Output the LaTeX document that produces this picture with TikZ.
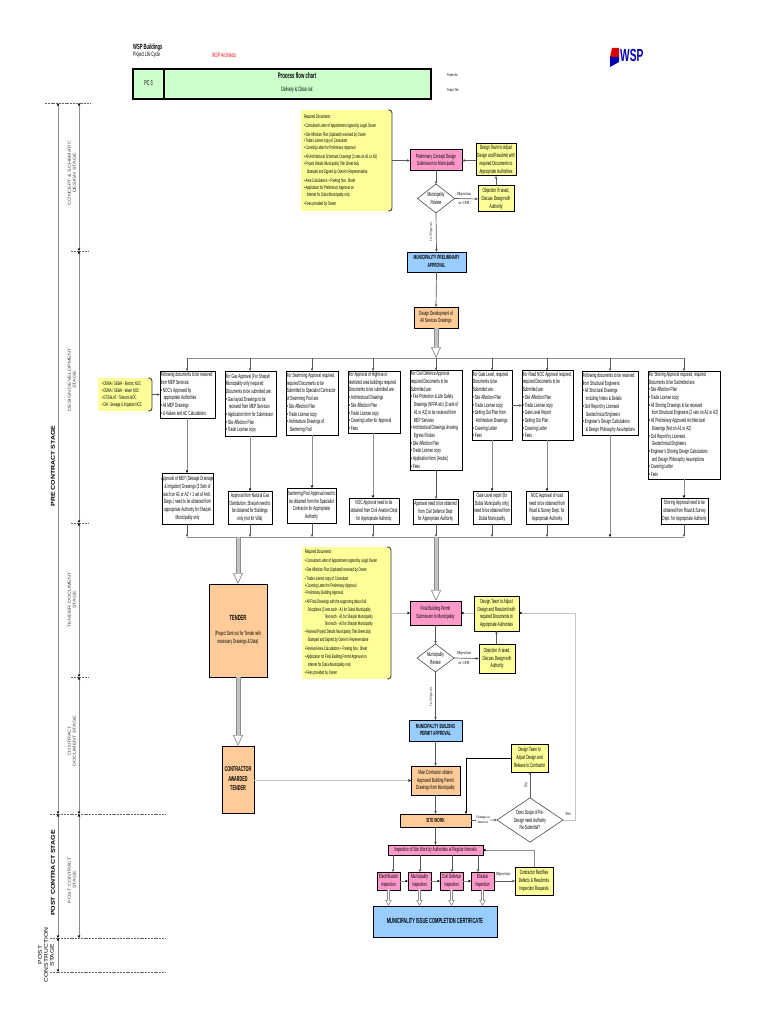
\documentclass[tikz,border=0pt]{standalone}
\usepackage{fontspec}
\usetikzlibrary{arrows.meta,shapes.geometric,calc}
\setmainfont[FakeStretch=0.54]{Liberation Sans}
\newfontfamily\lblserif[FakeStretch=0.8]{Liberation Serif}
\newfontfamily\stagefont[FakeStretch=1.25]{Liberation Sans}
\newfontfamily\logofont[FakeStretch=0.58]{Liberation Sans}
\definecolor{cpink}{HTML}{FF99CC}
\definecolor{cyel}{HTML}{FFFF99}
\definecolor{cblue}{HTML}{99CCFF}
\definecolor{corg}{HTML}{FFCC99}
\definecolor{cgreen}{HTML}{CCFFCC}
\definecolor{cgrey}{HTML}{8C8C8C}
\definecolor{clight}{HTML}{C4C4C4}
\newcommand\tiptext{\fontsize{6}{7.7}\selectfont}
\newcommand\notetext{\fontsize{5.2}{7.3}\selectfont}
\newcommand\bxcore[8]{%
  \pgfmathsetmacro\bxcx{(#3+#5)/2}\pgfmathsetmacro\bxcy{(#4+#6)/2}%
  \pgfmathsetmacro\bxw{#5-#3}\pgfmathsetmacro\bxh{#6-#4}\pgfmathsetmacro\bxt{#5-#3-1.5}%
  \node[#7,minimum width=\bxw pt,minimum height=\bxh pt] (#2) at (\bxcx,\bxcy)
    {\makebox[\bxt pt][#1]{\begin{tabular}{@{}#1@{}}#8\end{tabular}}};}
\newcommand\bx{\bxcore{c}}
\newcommand\bxl{\bxcore{l}}
\tikzset{
  x=1pt,y=-1pt,
  boxbase/.style={draw=black,line width=1pt,inner sep=0pt,outer sep=0pt,font=\tiptext},
  docbox/.style={boxbase,fill=white},
  appbox/.style={boxbase,fill=white},
  pinkbox/.style={boxbase,fill=cpink},
  yelbox/.style={boxbase,fill=cyel},
  bluebox/.style={boxbase,fill=cblue},
  orgbox/.style={boxbase,fill=corg},
  notebox/.style={fill=cyel,inner sep=0pt,outer sep=0pt,font=\notetext},
  bracket/.style={draw=black!80,line width=.8pt,rounded corners=3pt},
  revdiamond/.style={diamond,draw=black!70,fill=white,line width=.6pt,inner sep=0pt,outer sep=0pt,aspect=1.3,align=center,font=\tiptext},
  con/.style={draw=black!65,line width=.7pt,-{Stealth[length=3pt,width=2.6pt]}},
  greycon/.style={draw=clight,line width=1pt,-{Stealth[length=3pt,width=2.6pt,color=black]}},
  darkcon/.style={draw=black,line width=.9pt,-{Stealth[length=3pt,width=2.6pt]}},
  busline/.style={draw=cgrey,line width=1pt},
  fat/.style={draw=cgrey,line width=5pt,-{Triangle[length=11pt,width=10pt,fill=white,line width=.7pt]},
     postaction={draw=clight,line width=3pt,-,shorten >=10pt}},
  fatsmall/.style={draw=cgrey,line width=3.4pt,-{Triangle[length=6pt,width=6.5pt,fill=white,line width=.6pt]},
     postaction={draw=white,line width=1.6pt,-,shorten >=5pt}},
  lbl/.style={inner sep=0pt,font=\lblserif\fontsize{4.6}{5}\selectfont,align=center},
  stagelbl/.style={inner sep=0pt,rotate=90,align=center,text=black!75,font=\stagefont\fontsize{4.3}{5}\selectfont},
  bigstage/.style={inner sep=0pt,rotate=90,align=center,font=\stagefont\bfseries\fontsize{5.6}{6.2}\selectfont},
  stageline/.style={draw=cgrey,line width=.9pt,{Stealth[length=3pt,width=2.6pt,color=black]}-{Stealth[length=3pt,width=2.6pt,color=black]}},
  stagetick/.style={draw=black!60,line width=.8pt,dash pattern=on 2pt off .8pt},
  hdr/.style={inner sep=0pt,anchor=west},
}
\begin{document}
\begin{tikzpicture}
\useasboundingbox[fill=white] (0,0) rectangle (768,1024);
% header
\node[hdr,font=\bfseries\fontsize{7.6}{9}\selectfont] (h1) at (133,48) {WSP Buildings};
\node[hdr,font=\fontsize{6.4}{8}\selectfont] (h2) at (133,55) {Project Life Cycle};
\node[hdr,text=red,font=\fontsize{6.4}{8}\selectfont] (h3) at (212,55) {WSP Architects};
\bx{hleft}{133}{69}{164}{99}{boxbase,fill=cgreen,line width=1.2pt,font=\fontsize{7}{8}\selectfont}{PC 3}
\bx{hmain}{164}{69}{431}{99}{boxbase,fill=cgreen,line width=1.2pt}{}
\node[inner sep=0pt,font=\bfseries\fontsize{8}{9}\selectfont] (h4) at (297,76) {Process flow chart};
\node[inner sep=0pt,font=\fontsize{6.4}{8}\selectfont] (h5) at (297,90) {Delivery \& Close out};
\node[hdr,font=\fontsize{4}{5}\selectfont] (h6) at (447,75) {Project No:};
\node[hdr,font=\fontsize{4}{5}\selectfont] (h7) at (447,90) {Project Title:};
% logo
\fill[red!85!black] (612,48) -- (619,48) -- (619,57) -- (610,57) -- cycle;
\fill[blue!70!black] (610,57) -- (619,57) -- (619,62) -- (610,67) -- cycle;
\node[hdr,text=blue!70!black,font=\logofont\bfseries\fontsize{17.5}{18}\selectfont] (logo) at (620,55.5) {WSP};
% stage rails
\coordinate (r1a) at (58,103); \coordinate (r1b) at (58,814); \coordinate (r1c) at (58,938); \coordinate (r1d) at (58,972);
\coordinate (r2a) at (79,103); \coordinate (r2b) at (79,251); \coordinate (r2c) at (79,523); \coordinate (r2d) at (79,677); \coordinate (r2e) at (79,814); \coordinate (r2f) at (79,938);
\draw[stagetick] (45,103) -- (90,103);
\draw[stagetick] (71,251) -- (89,251);
\draw[stagetick] (71,523) -- (89,523);
\draw[stagetick] (71,677) -- (89,677);
\draw[stagetick] (50,814) -- (165,814);
\draw[stagetick] (50,938) -- (165,938);
\draw[stagetick] (50,972) -- (165,972);
\draw[stageline] (r1a) -- (r1b);
\draw[stageline] (r1b) -- (r1c);
\draw[stageline] (r1c) -- (r1d);
\draw[stageline] (r2a) -- (r2b);
\draw[stageline] (r2b) -- (r2c);
\draw[stageline] (r2c) -- (r2d);
\draw[stageline] (r2d) -- (r2e);
\draw[stageline] (r2e) -- (r2f);
\node[stagelbl] (s1) at (72,173) {CONCEPT \& SCHEMATIC\\DESIGN STAGE};
\node[stagelbl] (s2) at (72,380) {DESIGN DEVELOPMENT\\STAGE};
\node[stagelbl] (s3) at (72,600) {TENDER DOCUMENT\\STAGE};
\node[stagelbl] (s4) at (72,741) {CONTRACT\\DOCUMENT STAGE};
\node[stagelbl] (s5) at (72,880) {POST CONTRACT\\STAGE};
\node[bigstage] (s6) at (53,466) {PRE CONTRACT STAGE};
\node[bigstage] (s7) at (53,873) {POST CONTRACT STAGE};
\node[bigstage,font=\stagefont\fontsize{5.4}{6}\selectfont] (s8) at (46,955) {POST\\CONSTRUCTION\\STAGE};
% notes
\bxl{n1}{301}{110}{392}{211}{notebox}{%
\hspace*{2pt}Required Documents:\\[1.5pt]
\hspace*{2pt}• Consultant Letter of Appointment signed by Legal Owner\\[1.5pt]
\hspace*{2pt}• Site Affection Plan (Updated) received by Owner\\[-.8pt]
\hspace*{2pt}• Trade License copy of Consultant\\
\hspace*{2pt}• Covering Letter for Preliminary Approval\\[1.5pt]
\hspace*{2pt}• All Architectural Schematic Drawings (3 sets on A1 or A2)\\
\hspace*{2pt}• Project Details Municipality Title Sheet duly\\
\hspace*{5pt}Stamped and Signed by Owner's Representative\\[1.5pt]
\hspace*{2pt}• Area Calculations + Parking Nos. Sheet\\
\hspace*{2pt}• Application for Preliminary Approval on\\
\hspace*{5pt}Internet for Dubai Municipality only\\[1.5pt]
\hspace*{2pt}• Fees provided by Owner}
\draw[bracket] ([xshift=-4pt]n1.north east) -- (n1.north east) -- (n1.south east) -- ([xshift=-4pt]n1.south east);
\bxl{n2}{302}{547}{391}{679}{notebox}{%
\hspace*{2pt}Required Documents:\\[1.5pt]
\hspace*{2pt}• Consultant Letter of Appointment signed by Legal Owner\\[1.5pt]
\hspace*{2pt}• Site Affection Plan (Updated) received by Owner\\[1.5pt]
\hspace*{2pt}• Trade License copy of Consultant\\
\hspace*{2pt}• Covering Letter for Preliminary Approval\\
\hspace*{2pt}• Preliminary Building Approval\\[1.5pt]
\hspace*{2pt}• All Final Drawings with the supporting data of all\\
\hspace*{5pt}Disciplines (3 sets each - A1 for Dubai Municipality\\
\hspace*{22pt}Text each - A1 for Sharjah Municipality\\
\hspace*{22pt}Text each - A3 for Sharjah Municipality\\[1pt]
\hspace*{2pt}• Revised Project Details Municipality Title Sheet duly\\
\hspace*{5pt}Stamped and Signed by Owner's Representative\\[1.5pt]
\hspace*{2pt}• Revised Area Calculations + Parking Nos. Sheet\\[1.5pt]
\hspace*{2pt}• Application for Final Building Permit Approval on\\
\hspace*{5pt}Internet for Dubai Municipality only\\[1.5pt]
\hspace*{2pt}• Fees provided by Owner}
\draw[bracket] ([xshift=-4pt]n2.north east) -- (n2.north east) -- (n2.south east) -- ([xshift=-4pt]n2.south east);
\bxl{n3}{98}{378}{152}{411}{notebox}{%
\hspace*{3pt}• DEWA / SEWA - Electric NOC\\
\hspace*{3pt}• DEWA / SEWA - Water NOC\\
\hspace*{3pt}• ETISALAT - Telecom NOC\\
\hspace*{3pt}• DM - Sewage \& Irrigation NOC}
\draw[bracket] ([xshift=-4pt]n3.north east) -- (n3.north east) -- (n3.south east) -- ([xshift=-4pt]n3.south east);
% upper flow
\bx{p1}{410}{150}{462}{171}{pinkbox}{Preliminary Concept Design\\Submission to Municipality}
\bx{d1}{476}{144}{516}{176}{yelbox}{Design Team to Adjust\\Design and Resubmit with\\required Documents to\\Appropriate Authorities}
\bx{o1}{478}{186}{514}{212}{yelbox}{Objection if raised,\\Discuss Design with\\Authority}
\node[revdiamond,minimum width=37pt,minimum height=29pt] (m1) at (436,198.5) {Municipality\\Review};
\bx{a1}{407}{252}{466}{272}{bluebox,font=\tiptext\bfseries}{MUNICIPALITY PRELIMINARY\\APPROVAL}
\bx{dd}{414}{307}{458}{328}{orgbox}{Design Development of\\All Services Drawings}
\draw[con] (n1.east |- p1.west) -- (p1.west);
\draw[con] (d1.west |- p1.east) -- (p1.east);
\draw[con] (o1.north -| d1.south) -- (d1.south);
\draw[con] (p1.south) -- (m1.north);
\draw[con] (m1.east) -- (o1.west);
\draw[con] (m1.south) -- (a1.north);
\draw[con] (a1.south) -- (dd.north);
\node[lbl] (l1) at (464,194) {Objection};
\node[lbl] (l2) at (464,203) {or CFR};
\node[lbl,rotate=90,font=\lblserif\fontsize{3.2}{4}\selectfont] (l3) at (431,232) {Fax Of Approvals};
% document row
\bxl{b1}{160}{371}{215}{418}{docbox}{Following documents to be received\\from MEP Services:\\• NOC's Approved by\\\hspace*{3pt}appropriate Authorities\\• All MEP Drawings\\• U-Values and AC Calculations}
\bxl{b2}{225}{371}{276}{436}{docbox}{For Gas Approval (For Sharjah\\Municipality only) required\\Documents to be submitted are:\\• Gas layout Drawings to be\\\hspace*{3pt}received from MEP Services\\• Application form for Submission\\• Site Affection Plan\\• Trade License copy}
\bxl{b3}{286}{371}{338}{435}{docbox}{For Swimming Approval required,\\required Documents to be\\Submitted to Specialist Contractor\\of Swimming Pool are:\\• Site Affection Plan\\• Trade License copy\\• Architecture Drawings of\\\hspace*{3pt}Swimming Pool}
\bxl{b4}{348}{371}{400}{433}{docbox}{For Approval of Highrise or\\restricted area buildings required\\Documents to be submitted are:\\• Architectural Drawings\\• Site Affection Plan\\• Trade License copy\\• Covering Letter for Approval\\• Fees}
\bxl{b5}{410}{371}{462}{470}{docbox}{For Civil Defence Approval\\required Documents to be\\Submitted are:\\• Fire Protection \& Life Safety\\\hspace*{3pt}Drawings (NFPA etc) (3 sets of\\\hspace*{3pt}A1 or A2) to be received from\\\hspace*{3pt}MEP Services\\• Architectural Drawings showing\\\hspace*{3pt}Egress Routes\\• Site Affection Plan\\• Trade License copy\\• Application form (Arabic)\\• Fees}
\bxl{b6}{472}{371}{512}{440}{docbox}{For Gate Level, required\\Documents to be\\Submitted are:\\• Site Affection Plan\\• Trade License copy\\• Setting Out Plan from\\\hspace*{3pt}Architecture Drawings\\• Covering Letter\\• Fees}
\bxl{b7}{522}{371}{573}{440}{docbox}{For Road NOC Approval required,\\required Documents to be\\Submitted are:\\• Site Affection Plan\\• Trade License copy\\• Gate Level Report\\• Setting Out Plan\\• Covering Letter\\• Fees}
\bxl{b8}{582}{371}{638}{435}{docbox}{Following documents to be received\\from Structural Engineers:\\• All Structural Drawings\\\hspace*{3pt}including Notes \& Details\\• Soil Report by Licensed\\\hspace*{3pt}Geotechnical Engineers\\• Engineer's Design Calculations\\\hspace*{3pt}\& Design Philosophy Assumptions}
\bxl{b9}{648}{371}{720}{479}{docbox}{For Shoring Approval required, required\\Documents to be Submitted are:\\• Site Affection Plan\\• Trade License copy\\• All Shoring Drawings to be received\\\hspace*{3pt}from Structural Engineers (2 sets on A1 or A2)\\• All Preliminary Approved Architectural\\\hspace*{3pt}Drawings (Not on A1 or A2)\\• Soil Report by Licensed\\\hspace*{3pt}Geotechnical Engineers\\• Engineer's Shoring Design Calculations\\\hspace*{3pt}and Design Philosophy Assumptions\\• Covering Letter\\• Fees}
% approval row
\bx{g1}{162}{473}{213}{524}{appbox}{Approval of MEP (Sewage Drainage\\\& Irrigation) Drawings (3 Sets of\\each on A1 or A2 + 1 set of Arch.\\Dwgs.) need to be obtained from\\appropriate Authority for Sharjah\\Municipality only}
\bx{g2}{228}{491}{272}{524}{appbox}{Approval from Natural Gas\\Distribution, Sharjah need to\\be obtained for Buildings\\only (not for Villa)}
\bx{g3}{287}{488}{336}{523}{appbox}{Swimming Pool Approval need to\\be obtained from the Specialist\\Contractor for Appropriate\\Authority}
\bx{g4}{349}{498}{399}{524}{appbox}{NOC Approval need to be\\obtained from Civil Aviation Dept\\for Appropriate Authority}
\bx{g5}{413}{499}{458}{524}{appbox}{Approval need to be obtained\\from Civil Defence Dept\\for Appropriate Authority}
\bx{g6}{473}{491}{511}{524}{appbox}{Gate Level report (for\\Dubai Municipality only)\\need to be obtained from\\Dubai Municipality}
\bx{g7}{526}{491}{568}{524}{appbox}{NOC Approval of road\\need to be obtained from\\Road \& Survey Dept. for\\Appropriate Authority}
\bx{g9}{661}{498}{708}{524}{appbox}{Shoring Approval need to be\\obtained from Road \& Survey\\Dept. for Appropriate Authority}
% buses
\coordinate (tl) at (187,358); \coordinate (tr) at (684,358);
\coordinate (bl) at (187,537); \coordinate (br) at (684,537);
\coordinate (t1) at (187,358);\coordinate (t2) at (250,358);\coordinate (t3) at (312,358);\coordinate (t4) at (373,358);\coordinate (t5) at (436,358);\coordinate (t6) at (492,358);\coordinate (t7) at (547,358);\coordinate (t8) at (610,358);\coordinate (t9) at (684,358);
\coordinate (u1) at (187,537);\coordinate (u2) at (250,537);\coordinate (u3) at (312,537);\coordinate (u4) at (373,537);\coordinate (u5) at (436,537);\coordinate (u6) at (492,537);\coordinate (u7) at (547,537);\coordinate (u8) at (610,537);\coordinate (u9) at (684,537);
\draw[busline] (tl) -- (tr);
\draw[busline] (bl) -- (br);
\foreach \i in {1,...,9}{\draw[con] (t\i) -- (t\i |- b\i.north);}
\draw[greycon,draw=cgrey] (t1 |- b1.south) -- (t1 |- g1.north);
\draw[greycon,draw=cgrey] (t2 |- b2.south) -- (t2 |- g2.north);
\draw[greycon,draw=cgrey] (t3 |- b3.south) -- (t3 |- g3.north);
\draw[greycon,draw=cgrey] (t4 |- b4.south) -- (t4 |- g4.north);
\draw[con] (t5 |- b5.south) -- (t5 |- g5.north);
\draw[greycon,draw=cgrey] (t6 |- b6.south) -- (t6 |- g6.north);
\draw[greycon,draw=cgrey] (t7 |- b7.south) -- (t7 |- g7.north);
\draw[greycon,draw=cgrey] (t9 |- b9.south) -- (t9 |- g9.north);
\draw[greycon,draw=cgrey] (t8 |- b8.south) -- (u8);
\foreach \i in {1,2,3,4,5,6,7,9}{\draw[con] (u\i |- g\i.south) -- (u\i);}
\draw[con] (b6.east |- b7.west) -- (b7.west);
\draw[con] (n3.east) -- (b1.west |- n3.east);
% lower flow
\coordinate (fx) at (238,537);
\bx{tn}{209}{584}{267}{677}{orgbox}{{\bfseries\fontsize{7.5}{9}\selectfont TENDER}\\[7pt](Project Sent out for Tender with\\necessary Drawings \& Data)}
\bx{ct}{222}{746}{254}{813}{orgbox,font=\fontsize{7}{9.5}\selectfont\bfseries}{CONTRACTOR\\AWARDED\\TENDER}
\bx{p2}{410}{601}{461}{625}{pinkbox}{Final Building Permit\\Submission to Municipality}
\bx{d2}{474}{596}{519}{631}{yelbox}{Design Team to Adjust\\Design and Resubmit with\\required Documents to\\Appropriate Authorities}
\bx{o2}{479}{644}{515}{673}{yelbox}{Objection if raised,\\Discuss Design with\\Authority}
\node[revdiamond,minimum width=37pt,minimum height=28pt] (m2) at (435.5,658) {Municipality\\Review};
\bx{a2}{409}{720}{462}{741}{bluebox,font=\tiptext\bfseries}{MUNICIPALITY BUILDING\\PERMIT APPROVAL}
\bx{mc}{411}{766}{460}{795}{orgbox}{Main Contractor obtains\\Approved Building Permit\\Drawings from Municipality}
\bx{d3}{511}{744}{548}{772}{yelbox}{Design Team to\\Adjust Design and\\Release to Contractor}
\bx{sw}{400}{814}{471}{827}{orgbox,font=\tiptext\bfseries}{SITE WORK}
\node[revdiamond,minimum width=66pt,minimum height=44pt] (m3) at (530,820) {Does Scope of Re-\\Design need Authority\\Re-Submittal?};
\bx{ib}{388}{845}{483}{855}{pinkbox}{Inspection of Site Work by Authorities at Regular Intervals}
\bx{i1}{377}{872}{400}{890}{pinkbox}{Electrification\\Inspection}
\bx{i2}{408}{872}{431}{890}{pinkbox}{Municipality\\Inspection}
\bx{i3}{440}{872}{463}{890}{pinkbox}{Civil Defence\\Inspection}
\bx{i4}{471}{872}{494}{890}{pinkbox}{Etisalat\\Inspection}
\bx{cr}{515}{867}{553}{895}{yelbox}{Contractor Rectifies\\Defects \& Resubmits\\Inspection Requests}
\bx{cc}{373}{906}{497}{937}{bluebox,font=\bfseries\fontsize{7.4}{9}\selectfont}{MUNICIPALITY ISSUE COMPLETION CERTIFICATE}
% fat connectors
\draw[fat] (dd.south) -- (t5);
\draw[fat] (fx) -- (fx |- tn.north);
\draw[fat] (tn.south -| ct.north) -- (ct.north);
\draw[fat] (u5) -- (u5 |- p2.north);
\draw[fatsmall] (i1.south) -- (i1.south |- cc.north);
\draw[fatsmall] (i2.south) -- (i2.south |- cc.north);
\draw[fatsmall] (i3.south) -- (i3.south |- cc.north);
\draw[fatsmall] (i4.south) -- (i4.south |- cc.north);
% thin connectors
\draw[greycon] (n2.east |- p2.west) -- (p2.west);
\draw[greycon] (d2.west |- p2.east) -- (p2.east);
\coordinate (rail) at (575,613);
\draw[greycon] (m3.east) -- (rail |- m3.east) -- (rail) -- (d2.east |- rail);
\draw[con] (o2.north -| d2.south) -- (d2.south);
\draw[con] (p2.south) -- (m2.north);
\draw[con] (m2.east) -- (o2.west);
\draw[con] (m2.south) -- (a2.north);
\draw[con] (a2.south) -- (mc.north);
\draw[greycon] (ct.east |- mc.west) -- (mc.west);
\draw[con] (mc.south) -- (sw.north);
\coordinate (swin) at (466,814);
\draw[darkcon] (d3.west) -| (swin);
\draw[con] (m3.north) -- (d3.south -| m3.north);
\draw[con] (sw.east) -- (m3.west);
\draw[con] (sw.south) -- (sw.south |- ib.north);
\coordinate (c1) at (393,855);\coordinate (c2) at (420,855);\coordinate (c3) at (452,855);\coordinate (c4) at (478,855);
\draw[con] (c1) -- (c1 |- i1.north);
\draw[con] (c2) -- (c2 |- i2.north);
\draw[con] (c3) -- (c3 |- i3.north);
\draw[con] (c4) -- (c4 |- i4.north);
\draw[greycon,draw=cgrey] (i1.east) -- (i2.west);
\draw[greycon,draw=cgrey] (i2.east) -- (i3.west);
\draw[greycon,draw=cgrey] (i3.east) -- (i4.west);
\draw[con] (i4.east) -- (cr.west |- i4.east);
\draw[greycon,draw=cgrey] (cr.north) -- (cr.north |- ib.east) -- (ib.east);
\node[lbl] (l4) at (464,653) {Objection};
\node[lbl] (l5) at (464,663) {or CFR};
\node[lbl,rotate=90,font=\lblserif\fontsize{3.2}{4}\selectfont] (l6) at (431,697) {Fax Of Approvals};
\node[lbl,font=\lblserif\fontsize{3.8}{5.2}\selectfont,fill=white] (l7) at (483,820) {Changes in\\Interiors};
\node[lbl] (l8) at (568,814) {Yes};
\node[lbl,rotate=90] (l9) at (526,785) {No};
\node[lbl] (l10) at (503,874) {Objection};
\end{tikzpicture}
\end{document}
